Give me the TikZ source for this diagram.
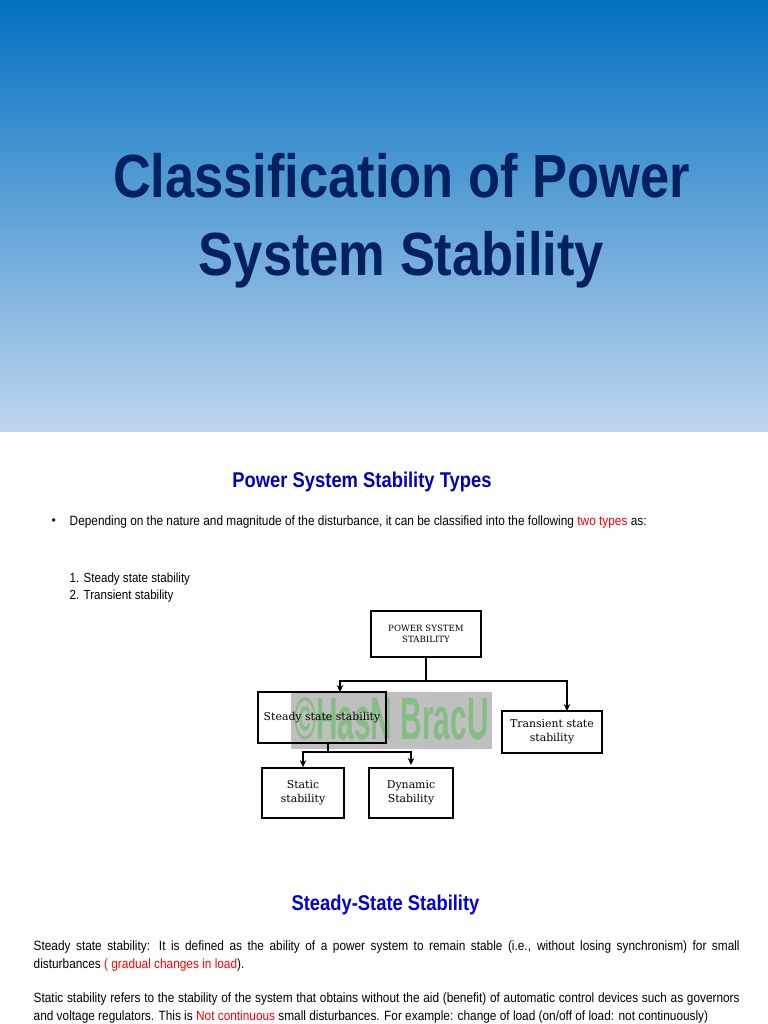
\documentclass[tikz,border=0pt]{standalone}
\usepackage{fontspec}
\setmainfont{Liberation Sans}
\newfontfamily\narrowfont[FakeStretch=0.88]{Liberation Sans}
\newfontfamily\titlefont[FakeStretch=0.86]{Liberation Sans}
\newfontfamily\markfont[FakeStretch=0.5]{Liberation Sans}
\newfontfamily\boxfont{DejaVu Serif}
\usetikzlibrary{positioning,arrows.meta}
\definecolor{navy}{RGB}{0,32,96}
\definecolor{headblue}{RGB}{0,0,190}
\definecolor{topblue}{RGB}{2,112,192}
\definecolor{lowblue}{RGB}{190,214,238}
\definecolor{markgreen}{RGB}{132,190,132}
\tikzset{
    stabbox/.style={draw=black,line width=0.018cm,align=center,inner sep=0pt,font=\boxfont\fontsize{3.1pt}{4pt}\selectfont},
    heading/.style={text=headblue,font=\titlefont\bfseries\fontsize{6.08pt}{7pt}\selectfont},
    bodytext/.style={anchor=north west,inner sep=0pt,align=left,font=\narrowfont\fontsize{3.83pt}{5.05pt}\selectfont},
    link/.style={line width=0.018cm},
    linkarrow/.style={link,-{Stealth[length=0.07cm,width=0.065cm]}}
}
\begin{document}
\begin{tikzpicture}
    \useasboundingbox (0,0) rectangle (7.68,10.24);

    % title band
    \shade[top color=topblue,bottom color=lowblue] (0,5.92) rectangle (7.68,10.24);
    \node[align=center,text=navy,font=\titlefont\bfseries\fontsize{17.35pt}{22.2pt}\selectfont] (title) at (4.015,8.03) {Classification of Power\\System Stability};

    % text above the chart
    \node[heading] (typeshead) at (3.62,5.425) {Power System Stability Types};
    \node[anchor=west,inner sep=0pt,font=\fontsize{3.45pt}{4.85pt}\selectfont] (dot) at (0.51,5.02) {•};
    \node[bodytext,anchor=west] (intro) at (0.69,5.015) {Depending on the nature and magnitude of the disturbance, it can be classified into the following \textcolor{red}{two types} as:};
    \node[bodytext,anchor=west,font=\narrowfont\fontsize{3.75pt}{5.05pt}\selectfont] (first) at (0.69,4.445) {1. Steady state stability};
    \node[bodytext,anchor=west,font=\narrowfont\fontsize{3.75pt}{5.05pt}\selectfont] (second) at (0.69,4.275) {2. Transient stability};

    % watermark
    \fill[black!25] (2.91,2.75) rectangle (4.92,3.32);
    \node[text=markgreen,font=\markfont\bfseries\fontsize{17pt}{19pt}\selectfont] (mark) at (3.915,3.05) {©HasN BracU};

    % chart
    \node[stabbox,minimum width=1.10cm,minimum height=0.46cm,font=\boxfont\fontsize{2.45pt}{3.3pt}\selectfont] (power) at (4.26,3.90) {POWER SYSTEM\\STABILITY};
    \node[stabbox,minimum width=1.28cm,minimum height=0.51cm] (steady) at (3.22,3.065) {Steady state stability};
    \node[stabbox,minimum width=1.00cm,minimum height=0.42cm] (transient) at (5.52,2.92) {Transient state\\stability};
    \node[stabbox,minimum width=0.82cm,minimum height=0.50cm] (static) at (3.03,2.31) {Static\\stability};
    \node[stabbox,minimum width=0.84cm,minimum height=0.50cm] (dynamic) at (4.11,2.31) {Dynamic\\Stability};

    \coordinate (upsplit) at (4.26,3.43);
    \coordinate (steadytop) at (3.40,3.32);
    \coordinate (transienttop) at (5.67,3.13);
    \coordinate (lowsplit) at (3.28,2.72);
    \coordinate (dynamictop) at (4.11,2.59);
    \draw[link] (power.south) -- (upsplit);
    \draw[linkarrow] (upsplit) -| (steadytop);
    \draw[linkarrow] (upsplit) -| (transienttop);
    \draw[link] (steady.south -| lowsplit) -- (lowsplit);
    \draw[linkarrow] (lowsplit) -| (static.north);
    \draw[linkarrow] (lowsplit) -| (dynamictop);

    % text below the chart
    \node[heading,text=blue!85!black] (steadyhead) at (3.855,1.19) {Steady-State Stability};
    \node[bodytext,text width=7.06cm,align=justify] (para) at (0.33,0.835) {Steady state stability: It is defined as the ability of a power system to remain stable (i.e., without losing synchronism) for small\linebreak disturbances \textcolor{red}{( gradual changes in load}).};
    \node[bodytext,text width=7.06cm,align=justify] (parb) at (0.33,0.315) {Static stability refers to the stability of the system that obtains without the aid (benefit) of automatic control devices such as governors and voltage regulators. This is \textcolor{red}{Not continuous} small disturbances. For example: change of load (on/off of load: not continuously)};
\end{tikzpicture}
\end{document}
